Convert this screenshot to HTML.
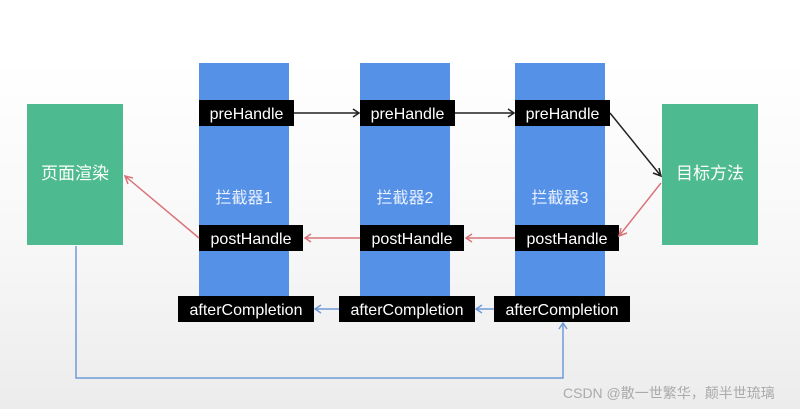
<!DOCTYPE html>
<html><head><meta charset="utf-8"><style>
html,body{margin:0;padding:0}
body{width:800px;height:409px;position:relative;overflow:hidden;background:linear-gradient(#fff 0px,#fff 60px,#f7f7f7 250px,#ececec 409px);font-family:"Liberation Sans","Noto Sans CJK SC",sans-serif}
.g{position:absolute;background:#4dbb8f;color:#fff;font-size:17px;display:flex;align-items:center;justify-content:center}
.col{position:absolute;background:#5591e6;top:63px;width:90px;height:233px}
.cl{position:absolute;color:#e8f0ff;font-size:16px;width:90px;text-align:center}
.b{position:absolute;background:#000;color:#fff;font-size:16px;height:26px;line-height:29px;text-align:center}
.wm{position:absolute;left:563px;top:383px;color:#aaa;font-size:14px}
</style></head><body>
<div class="g" style="left:27px;top:104px;width:96px;height:141px;padding-bottom:6px;box-sizing:border-box">页面渲染</div>
<div class="g" style="left:662px;top:104px;width:96px;height:141px;padding-bottom:6px;box-sizing:border-box">目标方法</div>
<div class="col" style="left:199px"></div>
<div class="col" style="left:360px"></div>
<div class="col" style="left:515px"></div>
<div class="cl" style="left:199px;top:184px">拦截器1</div>
<div class="cl" style="left:360px;top:184px">拦截器2</div>
<div class="cl" style="left:515px;top:184px">拦截器3</div>
<div class="b" style="left:199px;top:100px;width:95px">preHandle</div>
<div class="b" style="left:360px;top:100px;width:95px">preHandle</div>
<div class="b" style="left:515px;top:100px;width:95px">preHandle</div>
<div class="b" style="left:199px;top:225px;width:104px">postHandle</div>
<div class="b" style="left:360px;top:225px;width:104px">postHandle</div>
<div class="b" style="left:515px;top:225px;width:104px">postHandle</div>
<div class="b" style="left:178px;top:296px;width:136px">afterCompletion</div>
<div class="b" style="left:339px;top:296px;width:136px">afterCompletion</div>
<div class="b" style="left:494px;top:296px;width:136px">afterCompletion</div>
<svg width="800" height="409" style="position:absolute;left:0;top:0">
<g fill="none" stroke-width="1.5">
<path d="M294 113H359M353 109L359 113L353 117" stroke="#222"/>
<path d="M455 113H514M508 109L514 113L508 117" stroke="#222"/>
<path d="M610 113L661 176M653 173L661 176L659 168" stroke="#222"/>
<path d="M661 183L619 236M621 228L619 236L627 233" stroke="#d9747a"/>
<path d="M515 238H466M472 234L466 238L472 242" stroke="#d9747a"/>
<path d="M360 238H305M311 234L305 238L311 242" stroke="#d9747a"/>
<path d="M199 238L125 176M128 184L125 176L133 178" stroke="#d9747a"/>
<path d="M494 309H476M482 305L476 309L482 313" stroke="#6f9bd8"/>
<path d="M339 309H315M321 305L315 309L321 313" stroke="#6f9bd8"/>
<path d="M76 246V378H563V323M559 329L563 323L567 329" stroke="#6f9bd8"/>
</g></svg>
<div class="wm">CSDN @散一世繁华，颠半世琉璃</div>
</body></html>
